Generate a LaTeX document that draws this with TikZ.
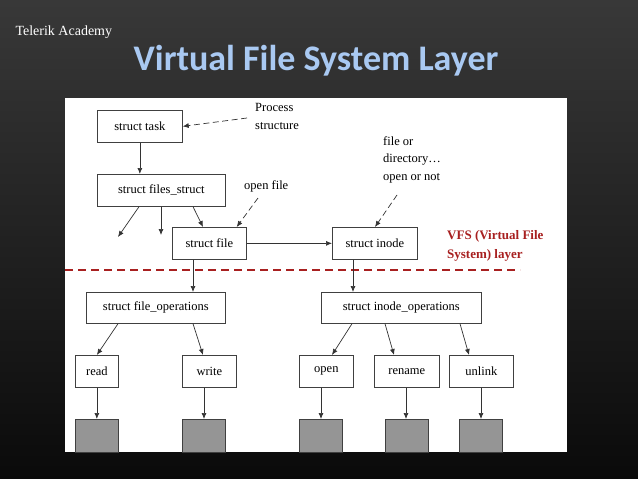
\documentclass[tikz,border=0pt]{standalone}
\usepackage{fontspec}
\setmainfont{Liberation Serif}
\newfontfamily\titlefont{Carlito}
\usetikzlibrary{arrows.meta}
\definecolor{vfsred}{HTML}{A82020}
\definecolor{titleblue}{HTML}{A9C9F2}
\definecolor{greybox}{HTML}{959595}
\begin{document}
\begin{tikzpicture}[x=1pt,y=-1pt,
  bx/.style={draw=black!75,line width=0.7pt,fill=white,inner sep=0pt,anchor=north west,font=\fontsize{12.5}{14}\selectfont},
  gb/.style={draw=black!75,line width=0.7pt,fill=greybox,inner sep=0pt,anchor=north west,minimum width=43pt,minimum height=33pt},
  ar/.style={-{Latex[length=6pt,width=5pt]},line width=0.7pt,black!80},
  da/.style={ar,dash pattern=on 6pt off 3.5pt},
  lbl/.style={font=\fontsize{12.5}{17}\selectfont,align=left,anchor=north west,inner sep=0pt}]
\useasboundingbox (0,0) rectangle (638,479);
\shade[top color=black!78,bottom color=black!96] (0,0) rectangle (638,479);
\node[text=white,font=\fontsize{14}{16}\selectfont,anchor=west] (logo) at (12,32) {Telerik Academy};
\node[font=\titlefont\bfseries\fontsize{36}{40}\selectfont,text=titleblue] (title) at (316,61) {Virtual File System Layer};
\fill[white] (65,98) rectangle (567,452);
% boxes
\node[bx,minimum width=85pt,minimum height=32pt] (task) at (97,110) {struct task};
\node[bx,minimum width=128pt,minimum height=32pt] (fs) at (97,174) {struct files\_struct};
\node[bx,minimum width=74pt,minimum height=32pt] (file) at (172,227) {struct file};
\node[bx,minimum width=85pt,minimum height=32pt] (inode) at (332,227) {struct inode};
\node[bx,minimum width=139pt,minimum height=31pt] (fo) at (86,292) {struct file\_operations};
\node[bx,minimum width=160pt,minimum height=31pt] (io) at (321,292) {struct inode\_operations};
\node[bx,minimum width=43pt,minimum height=32pt] (read) at (75,355) {read};
\node[bx,minimum width=54pt,minimum height=32pt] (write) at (182,355) {write};
\node[bx,minimum width=54pt,minimum height=32pt] (open) at (299,355) {open};
\node[bx,minimum width=65pt,minimum height=32pt] (rename) at (374,355) {rename};
\node[bx,minimum width=64pt,minimum height=32pt] (unlink) at (449,355) {unlink};
\node[gb] (g1) at (75,419) {};
\node[gb] (g2) at (182,419) {};
\node[gb] (g3) at (299,419) {};
\node[gb] (g4) at (385,419) {};
\node[gb] (g5) at (459,419) {};
% labels
\node[lbl,font=\fontsize{12.5}{18}\selectfont] (proc) at (255,103) {Process\\structure};
\node[lbl] (of) at (244,180) {open file};
\node[lbl,font=\fontsize{12.5}{17.5}\selectfont] (fd) at (383,136) {file or\\directory\dots\\open or not};
\node[lbl,text=vfsred,font=\bfseries\fontsize{13}{19}\selectfont] (vfs) at (447,230) {VFS (Virtual File\\System) layer};
% red dashed line
\coordinate (rl) at (65,270); \coordinate (rr) at (520,270);
\draw[vfsred,line width=1.8pt,dash pattern=on 8pt off 5pt] (rl) -- (rr);
% connectors
\coordinate (pa) at (247,118);
\draw[da] (pa) -- (task.east);
\coordinate (oa) at (258,198);
\draw[da] (oa) -- ([xshift=-10pt]file.north east);
\coordinate (fa) at (397,195);
\draw[da] (fa) -- ([xshift=43pt]inode.north west);
\draw[ar] (task.south) -- (fs.north -| task.south);
\coordinate (e1) at (118,237); \coordinate (e2) at (161,235);
\draw[ar] ([xshift=42pt]fs.south west) -- (e1);
\draw[ar] ([xshift=64pt]fs.south west) -- (e2);
\draw[ar] ([xshift=96pt]fs.south west) -- ([xshift=31pt]file.north west);
\draw[ar] (file.east) -- (inode.west);
\draw[ar] ([xshift=21pt]file.south west) -- ([xshift=21pt]file.south west |- fo.north);
\draw[ar] ([xshift=21pt]inode.south west) -- ([xshift=21pt]inode.south west |- io.north);
\draw[ar] ([xshift=32pt]fo.south west) -- (read.north);
\draw[ar] ([xshift=107pt]fo.south west) -- ([xshift=21pt]write.north west);
\draw[ar] ([xshift=31pt]io.south west) -- ([xshift=33pt]open.north west);
\draw[ar] ([xshift=64pt]io.south west) -- ([xshift=20pt]rename.north west);
\draw[ar] ([xshift=139pt]io.south west) -- ([xshift=20pt]unlink.north west);
\draw[ar] (read.south) -- (g1.north -| read.south);
\draw[ar] ([xshift=22pt]write.south west) -- ([xshift=22pt]write.south west |- g2.north);
\draw[ar] ([xshift=22pt]open.south west) -- ([xshift=22pt]open.south west |- g3.north);
\draw[ar] ([xshift=32pt]rename.south west) -- ([xshift=32pt]rename.south west |- g4.north);
\draw[ar] ([xshift=32pt]unlink.south west) -- ([xshift=32pt]unlink.south west |- g5.north);
\end{tikzpicture}
\end{document}
